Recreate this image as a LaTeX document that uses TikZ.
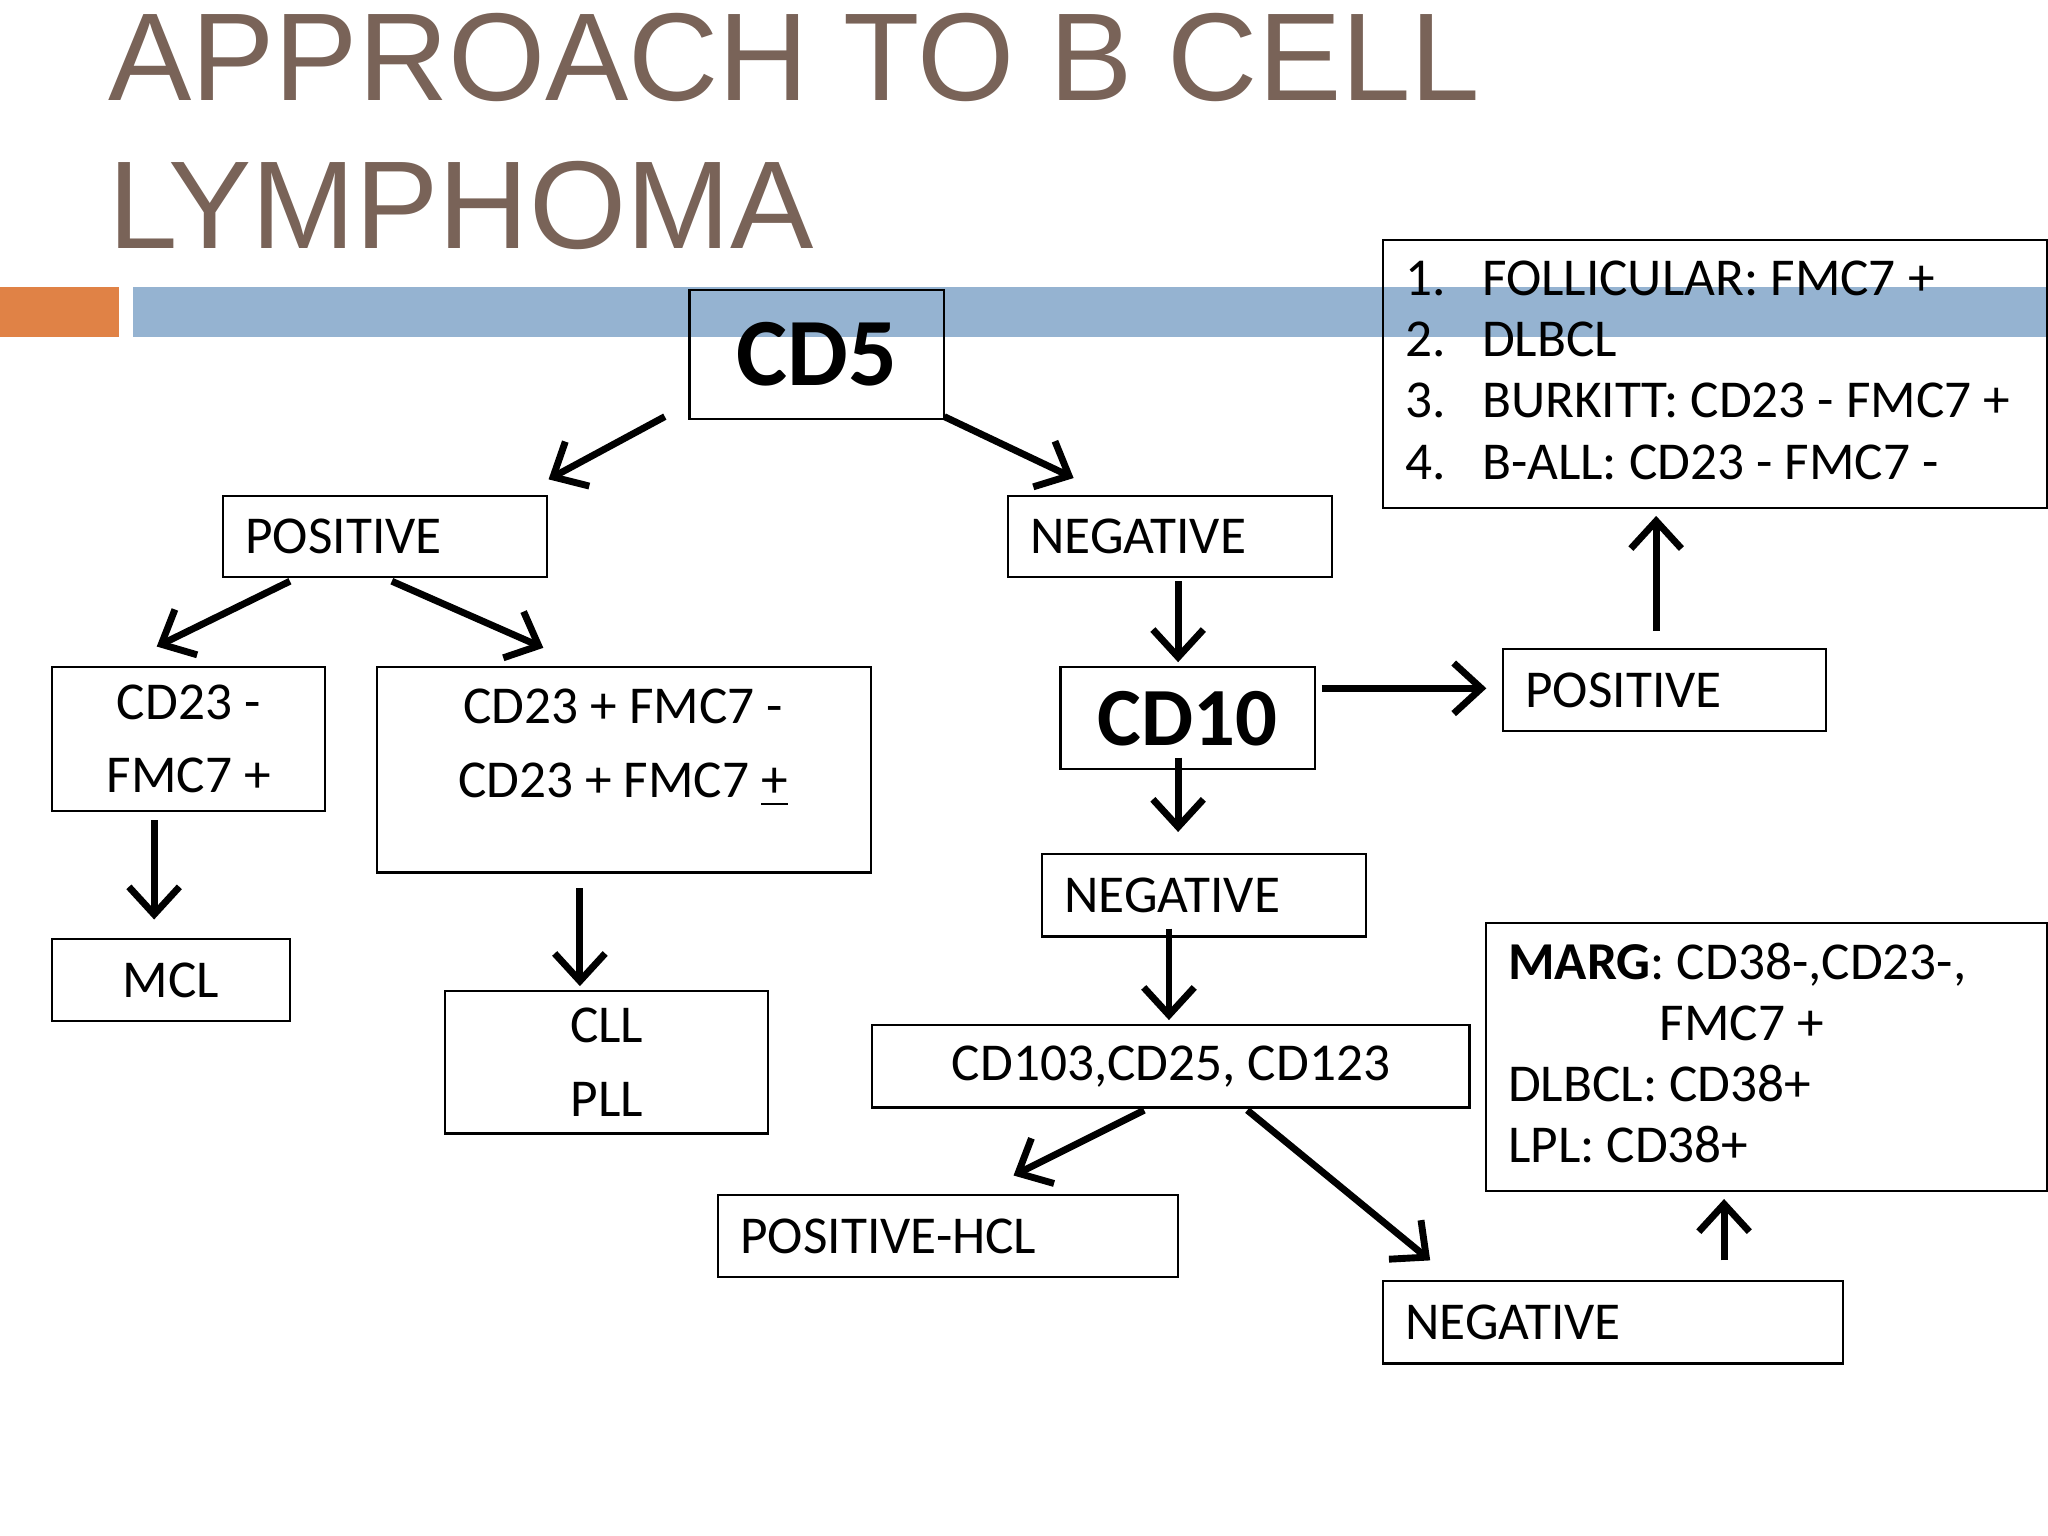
\documentclass[tikz,border=0pt]{standalone}
\usepackage{fontspec}
\setmainfont{Carlito}
\newfontfamily\titlefont{Liberation Sans}
\usetikzlibrary{arrows.meta}
\begin{document}
\begin{tikzpicture}[x=0.01cm,y=-0.01cm,
  box/.style={draw,line width=0.5pt,anchor=north west,inner sep=0pt,font=\fontsize{11.6}{14}\selectfont},
  lbox/.style={box,align=left,inner xsep=0.17cm},
  txt/.style={font=\fontsize{11.6}{14}\selectfont,inner sep=0pt},
  ttl/.style={anchor=base west,inner sep=0pt,font=\titlefont\fontsize{27.2}{32}\selectfont,text={rgb,255:red,121;green,99;blue,88}},
  arr/.style={->,line width=1.5pt,>={Straight Barb[length=6pt,width=11pt,line width=1.5pt]}}]
\useasboundingbox (0,0) rectangle (1568,1176);
\fill[white] (0,0) rectangle (1568,1176);
% title
\node[ttl] (t1) at (82,77) {APPROACH TO B CELL};
\node[ttl] (t2) at (82,190) {LYMPHOMA};
% bars
\fill[fill={rgb,255:red,224;green,130;blue,70}] (0,220) rectangle (91,258);
\fill[fill={rgb,255:red,149;green,179;blue,209}] (102,220) rectangle (1568,258);
% boxes
\node[box,minimum width=1.95cm,minimum height=0.99cm,font=\bfseries\fontsize{21}{24}\selectfont] (cd5) at (527,221) {CD5};
\node[lbox,minimum width=2.48cm,minimum height=0.62cm,text width=2.14cm] (pos1) at (170,379) {POSITIVE};
\node[lbox,minimum width=2.48cm,minimum height=0.62cm,text width=2.14cm] (neg1) at (771,379) {NEGATIVE};
\node[box,minimum width=2.09cm,minimum height=1.10cm,align=center] (cd23a) at (39,510) {CD23 -\\[2pt]FMC7 +};
\node[box,minimum width=3.78cm,minimum height=1.57cm] (cd23b) at (288,510) {};
\node[txt,anchor=north,align=center] (cd23bt) at (477,527) {CD23 + FMC7 -\\[2pt]CD23 + FMC7 \underline{+}};
\node[box,minimum width=1.82cm,minimum height=0.63cm] (mcl) at (39,718) {MCL};
\node[box,minimum width=2.47cm,minimum height=1.09cm,align=center] (cll) at (340,758) {CLL\\[2pt]PLL};
\node[box,minimum width=1.95cm,minimum height=0.78cm,font=\bfseries\fontsize{18}{21}\selectfont] (cd10) at (811,510) {CD10};
\node[lbox,minimum width=2.47cm,minimum height=0.63cm,text width=2.13cm] (pos2) at (1150,496) {POSITIVE};
\node[box,minimum width=5.08cm,minimum height=2.05cm] (list) at (1058,183) {};
\foreach \n/\t/\y in {1/FOLLICULAR: FMC7 +/215,2/DLBCL/262,3/BURKITT: CD23 - FMC7 +/309,4/B-ALL: CD23 - FMC7 -/356}{
  \node[txt,anchor=base west] (ln\n) at (1075,\y+11) {\n.};
  \node[txt,anchor=base west] (lt\n) at (1134,\y+11) {\t};
}
\node[lbox,minimum width=2.48cm,minimum height=0.63cm,text width=2.14cm] (neg2) at (797,653) {NEGATIVE};
\node[box,minimum width=4.57cm,minimum height=0.63cm] (cd103) at (667,784) {CD103,CD25, CD123};
\node[lbox,minimum width=3.52cm,minimum height=0.63cm,text width=3.18cm] (hcl) at (549,914) {POSITIVE-HCL};
\node[lbox,minimum width=3.52cm,minimum height=0.63cm,text width=3.18cm] (neg3) at (1058,980) {NEGATIVE};
\node[box,minimum width=4.29cm,minimum height=2.05cm] (marg) at (1137,706) {};
\node[txt,anchor=base west] (m1) at (1154,750) {\textbf{MARG}: CD38-,CD23-,};
\node[txt,anchor=base west] (m2) at (1270,797) {FMC7 +};
\node[txt,anchor=base west] (m3) at (1154,843) {DLBCL: CD38+};
\node[txt,anchor=base west] (m4) at (1154,890) {LPL: CD38+};
% arrow endpoints
\foreach \n/\x/\y in {a1/509/319,a2/420/367,b1/723/319,b2/822/366,c1/222/445,c2/120/495,d1/300/445,d2/416/496,
  e1/902/445,e2/902/507,f1/1012/527,f2/1138/527,g1/902/580,g2/902/637,h1/1268/483,h2/1268/395,
  i1/118/628,i2/118/704,j1/444/680,j2/444/755,k1/895/711,k2/895/781,l1/876/850,l2/776/900,
  m1a/955/850,m2a/1095/965,n1/1320/965,n2/1320/918}
  \coordinate (\n) at (\x,\y);
\foreach \s/\e in {a1/a2,b1/b2,c1/c2,d1/d2,e1/e2,f1/f2,g1/g2,h1/h2,i1/i2,j1/j2,k1/k2,l1/l2,m1a/m2a,n1/n2}
  \draw[arr] (\s) -- (\e);
\end{tikzpicture}
\end{document}
